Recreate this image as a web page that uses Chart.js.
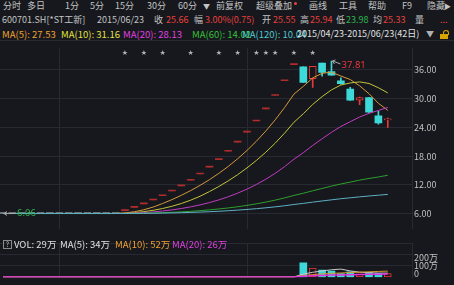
<!DOCTYPE html>
<html>
<head>
<meta charset="utf-8">
<script src="https://cdn.jsdelivr.net/npm/chart.js@4.4.1/dist/chart.umd.min.js"></script>
<style>
  body { margin:0; width:454px; height:285px; overflow:hidden; position:relative; background:#16181d;
         font-family:"Noto Sans CJK SC","Noto Sans",sans-serif; font-size:9px; color:#c4c4c4; }
  .t { position:absolute; white-space:nowrap; line-height:12px; }
  .r1 { top:0px; } .r2 { top:14px; } .r3 { top:28px; font-size:9.5px; } .rv { top:238px; font-size:9.5px; }
  .red { color:#e8403c; } .grn { color:#2db34e; }
  canvas { position:absolute; left:0; }
  #topline { position:absolute; left:0; top:40px; width:454px; height:1px; background:#272a31; }
</style>
</head>
<body>
<canvas id="priceChart" width="454" height="195" style="top:41px"></canvas>
<canvas id="volChart" width="454" height="49" style="top:236px"></canvas>
<div id="topline"></div>

<!-- toolbar -->
<span class="t r1" style="left:3px">分时</span>
<span class="t r1" style="left:27px">多日</span>
<span class="t r1" style="left:65px">1分</span>
<span class="t r1" style="left:90px">5分</span>
<span class="t r1" style="left:115px">15分</span>
<span class="t r1" style="left:147px">30分</span>
<span class="t r1" style="left:178px">60分</span>
<span class="t r1" style="left:203px;font-size:7px">▼</span>
<span class="t r1" style="left:216px">前复权</span>
<span class="t r1" style="left:256px">超级叠加</span>
<span style="position:absolute;left:294px;top:2px;width:3px;height:3px;border-radius:2px;background:#e8403c"></span>
<span class="t r1" style="left:309px">画线</span>
<span class="t r1" style="left:339px">工具</span>
<span class="t r1" style="left:368px">帮助</span>
<span class="t r1" style="left:402px">F9</span>
<span class="t r1" style="left:427px">隐藏</span>
<span class="t r1" style="left:444px;font-size:7px">▶</span>

<!-- quote row -->
<span class="t r2" style="left:2px">600701.SH[*ST工新]</span>
<span class="t r2" style="left:97px">2015/06/23</span>
<span class="t r2" style="left:154px">收</span>
<span class="t r2 red" style="left:166px">25.66</span>
<span class="t r2" style="left:194px">幅</span>
<span class="t r2 red" style="left:205px">3.00%(0.75)</span>
<span class="t r2" style="left:262px">开</span>
<span class="t r2 red" style="left:273px">25.55</span>
<span class="t r2" style="left:300px">高</span>
<span class="t r2 red" style="left:310px">25.94</span>
<span class="t r2" style="left:336px">低</span>
<span class="t r2 grn" style="left:346px">23.98</span>
<span class="t r2" style="left:373px">均</span>
<span class="t r2 red" style="left:383px">25.33</span>
<span class="t r2" style="left:415px">量</span>
<span class="t r2 red" style="left:440px">...</span>

<!-- MA row -->
<span class="t r3" style="left:2px;color:#f0a030">MA(5): 27.53</span>
<span class="t r3" style="left:61px;color:#e2e23a">MA(10): 31.16</span>
<span class="t r3" style="left:123px;color:#e040e0">MA(20): 28.13</span>
<span class="t r3" style="left:192px;color:#35c035">MA(60): 14.02</span>
<span class="t r3" style="left:242px;color:#50c8d0">MA(120): 10.04</span>
<span class="t r3" style="left:297px;color:#e0e0e0;font-size:9px">2015/04/23-2015/06/23(42日)</span>
<span class="t r3" style="left:426px;font-size:8px;color:#b0b0b0">▼</span>
<span style="position:absolute;left:443px;top:30px;width:4px;height:4px;border:1.5px solid #d9a400;border-bottom:none;border-radius:3px 3px 0 0"></span>
<span style="position:absolute;left:440px;top:34px;width:8px;height:5px;background:#d9a400"></span>

<!-- volume header -->
<span style="position:absolute;left:3px;top:240px;width:7px;height:7px;border:1px solid #8a8a8a;font-size:7px;line-height:7px;text-align:center;color:#c0c0c0">?</span>
<span class="t rv" style="left:14px;color:#e0e0e0">VOL: 29万</span>
<span class="t rv" style="left:60px;color:#e0e0e0">MA(5): 34万</span>
<span class="t rv" style="left:115px;color:#f0a030">MA(10): 52万</span>
<span class="t rv" style="left:172px;color:#e040e0">MA(20): 26万</span>

<script>
// 600701, 2015/04/23 - 2015/06/23, 42 trading days
const opens  = [6.06,6.06,6.06,6.06,6.06,6.06,6.06,6.06,6.06,6.06,6.06,6.06,6.06,
                6.67,7.33,8.07,8.87,9.76,10.74,11.81,12.99,14.29,15.72,17.29,19.02,20.92,23.01,25.32,27.85,30.63,33.70,37.06,
                36.60,34.10,37.35,35.60,33.70,31.96,29.65,30.20,26.40,25.55]
const highs  = [6.06,6.06,6.06,6.06,6.06,6.06,6.06,6.06,6.06,6.06,6.06,6.06,6.06,
                6.67,7.33,8.07,8.87,9.76,10.74,11.81,12.99,14.29,15.72,17.29,19.02,20.92,23.01,25.32,27.85,30.63,33.70,37.06,
                36.60,36.69,37.35,37.81,34.30,32.30,30.30,30.20,27.35,25.94]
const lows   = [6.06,6.06,6.06,6.06,6.06,6.06,6.06,6.06,6.06,6.06,6.06,6.06,6.06,
                6.67,7.33,8.07,8.87,9.76,10.74,11.81,12.99,14.29,15.72,17.29,19.02,20.92,23.01,25.32,27.85,30.63,33.70,37.06,
                33.35,32.30,34.65,34.85,33.00,29.60,28.70,27.10,24.65,23.98]
const closes = [6.06,6.06,6.06,6.06,6.06,6.06,6.06,6.06,6.06,6.06,6.06,6.06,6.06,
                6.67,7.33,8.07,8.87,9.76,10.74,11.81,12.99,14.29,15.72,17.29,19.02,20.92,23.01,25.32,27.85,30.63,33.70,37.06,
                33.35,36.69,35.40,34.85,33.10,29.65,30.20,27.15,24.91,25.66]

const ma5   = [6.06,6.06,6.06,6.06,6.06,6.06,6.06,6.06,6.06,6.06,6.06,6.06,6.06,
               6.18,6.44,6.84,7.40,8.14,8.95,9.85,10.83,11.92,13.11,14.42,15.86,17.45,19.19,21.11,23.22,25.55,28.10,30.91,
               32.52,34.29,35.24,35.47,34.68,33.94,32.64,30.99,29.00,27.53]
const ma10  = [6.06,6.06,6.06,6.06,6.06,6.06,6.06,6.06,6.06,6.06,6.06,6.06,6.06,
               6.12,6.25,6.45,6.73,7.10,7.57,8.14,8.84,9.66,10.63,11.69,12.86,14.14,15.56,17.11,18.82,20.70,22.78,25.05,
               26.82,28.76,30.39,31.79,32.80,33.23,33.46,33.12,32.24,31.16]
const ma20  = [6.06,6.06,6.06,6.06,6.06,6.06,6.06,6.06,6.06,6.06,6.06,6.06,6.06,
               6.09,6.15,6.25,6.40,6.58,6.81,7.10,7.45,7.86,8.34,8.90,9.55,10.30,11.14,12.11,13.20,14.42,15.81,17.36,
               18.72,20.22,21.62,22.96,24.18,25.17,26.14,26.91,27.51,28.13]
const ma60  = [6.06,6.06,6.06,6.06,6.06,6.06,6.06,6.06,6.06,6.06,6.06,6.06,6.06,
               6.07,6.09,6.12,6.17,6.23,6.31,6.41,6.52,6.66,6.82,7.01,7.22,7.47,7.75,8.08,8.44,8.85,9.31,9.83,
               10.28,10.79,11.28,11.76,12.21,12.60,13.01,13.36,13.67,14.02]
const ma120 = [6.06,6.06,6.06,6.06,6.06,6.06,6.06,6.06,6.06,6.06,6.06,6.06,6.06,
               6.07,6.08,6.09,6.12,6.15,6.19,6.23,6.29,6.36,6.44,6.53,6.64,6.77,6.91,7.07,7.25,7.45,7.68,7.94,
               8.17,8.43,8.67,8.91,9.14,9.33,9.53,9.71,9.87,10.04]

// volume in 万
const volumes = [0,0,0,0,0,0,0,0,0,0,0,0,0,
                 0.3,0.3,0.3,0.3,0.3,0.3,0.3,0.3,0.3,0.3,0.3,0.3,0.3,0.3,0.3,0.3,0.3,0.3,0.3,
                 126,80,62,52,30,45,25,38,33,29]
const volMa5  = [0,0,0,0,0,0,0,0,0,0,0,0,0,
                 0.06,0.12,0.18,0.24,0.3,0.3,0.3,0.3,0.3,0.3,0.3,0.3,0.3,0.3,0.3,0.3,0.3,0.3,0.3,
                 25.4,41.4,53.7,64.1,70.0,53.8,42.8,38.0,34.2,34.0]
const volMa10 = [0,0,0,0,0,0,0,0,0,0,0,0,0,
                 0.03,0.06,0.09,0.12,0.15,0.18,0.21,0.24,0.27,0.3,0.3,0.3,0.3,0.3,0.3,0.3,0.3,0.3,0.3,
                 12.9,20.8,27.0,32.2,35.2,39.6,42.1,45.9,49.1,52.0]
const volMa20 = [0,0,0,0,0,0,0,0,0,0,0,0,0,
                 0.02,0.03,0.05,0.06,0.08,0.09,0.11,0.12,0.14,0.15,0.17,0.18,0.2,0.21,0.23,0.24,0.26,0.27,0.29,
                 6.6,10.6,13.7,16.2,17.7,20.0,21.2,23.1,24.7,26.1]

const starDays = [13,15,17,20,23,25,27,28,29,31,33]   // info markers
const monthStarts = [6, 26]                           // 05/04, 06/01
const priceTicks = [6,12,18,24,30,36]
const volGridTicks = [100,200,300]
const volLabelTicks = [0,100,200]

const BG = '#16181d', GRID = '#272a31', RED = '#e8383a', LIMIT = '#b02c2c', CYAN = '#3dd9d9', GRAY = '#8c9196'

Chart.defaults.font.family = '"Noto Sans CJK SC", "Noto Sans", sans-serif'
Chart.defaults.font.size = 9
Chart.defaults.color = '#c0c0c0'

// candle type: up / down / limit (one-price up) / flat
const kind = closes.map(function (c, i) {
    if (c > opens[i]) return 'up'
    if (c < opens[i]) return 'down'
    const prev = i > 0 ? closes[i - 1] : c
    if (c > prev) return 'limit'
    if (c < prev) return 'down'
    return 'flat'
})
const fillOf = { up: BG, down: CYAN, limit: LIMIT, flat: GRAY }
const lineOf = { up: RED, down: CYAN, limit: LIMIT, flat: GRAY }

function xScale() {
    return {
        type: 'linear', min: -0.32, max: 43.58, offset: false,
        afterBuildTicks: function (s) { s.ticks = monthStarts.map(v => ({ value: v })) },
        ticks: { display: false },
        grid: { color: GRID, drawTicks: false, offset: false },
        border: { display: false },
        afterFit: function (s) { s.height = 0 }
    }
}

const marks = {
    id: 'marks',
    afterDatasetsDraw(chart) {
        const { ctx, chartArea } = chart
        const x = chart.scales.x, y = chart.scales.y
        ctx.save()
        ctx.fillStyle = '#b4b4b4'
        ctx.font = '7px "DejaVu Sans"'
        ctx.textAlign = 'center'
        ctx.textBaseline = 'middle'
        starDays.forEach(d => ctx.fillText('★', x.getPixelForValue(d), chartArea.top + 5))

        // highest
        const hi = Math.max(...highs), hiIdx = highs.indexOf(hi)
        let px = x.getPixelForValue(hiIdx), py = y.getPixelForValue(hi)
        ctx.strokeStyle = '#a8a8a8'
        ctx.lineWidth = 1
        ctx.beginPath()
        ctx.moveTo(px + 1, py); ctx.lineTo(px + 9, py + 3)
        ctx.moveTo(px + 1, py); ctx.lineTo(px + 4, py - 1)
        ctx.moveTo(px + 1, py); ctx.lineTo(px + 3, py + 3)
        ctx.stroke()
        ctx.textAlign = 'left'
        ctx.font = '9.5px "Noto Sans"'
        ctx.fillStyle = RED
        ctx.fillText(hi.toFixed(2), px + 10, py + 4)

        // lowest
        const lo = Math.min(...lows), loIdx = lows.indexOf(lo)
        px = x.getPixelForValue(loIdx); py = y.getPixelForValue(lo)
        ctx.beginPath()
        ctx.moveTo(px + 1, py); ctx.lineTo(px + 12, py)
        ctx.moveTo(px + 1, py); ctx.lineTo(px + 4, py - 2)
        ctx.moveTo(px + 1, py); ctx.lineTo(px + 4, py + 2)
        ctx.stroke()
        ctx.fillStyle = '#2db34e'
        ctx.fillText(lo.toFixed(2), px + 14, py)
        ctx.restore()
    }
}

function maLine(values, color, order) {
    return {
        type: 'line', data: values.map((v, i) => ({ x: i, y: v })),
        borderColor: color, borderWidth: 1, pointRadius: 0, tension: 0, order: order
    }
}

new Chart(document.getElementById('priceChart'), {
    data: {
        datasets: [
            {//wicks
                type: 'bar', grouped: false, order: 8,
                data: lows.map((l, i) => ({ x: i, y: [l, highs[i]] })),
                backgroundColor: kind.map(k => lineOf[k]), barThickness: 1
            },
            {//bodies
                type: 'bar', grouped: false, order: 7,
                data: opens.map((o, i) => ({ x: i, y: [o, closes[i]] })),
                backgroundColor: kind.map(k => fillOf[k]),
                borderColor: kind.map(k => lineOf[k]),
                borderWidth: kind.map(k => k === 'up' ? 1 : 0),
                borderSkipped: false, barThickness: 7, minBarLength: 1
            },
            maLine(ma5, '#d49a3a', 5),
            maLine(ma10, '#c4c43a', 4),
            maLine(ma20, '#c23cc2', 3),
            maLine(ma60, '#2f9e2f', 2),
            maLine(ma120, '#5fb0c4', 1)
        ]
    },
    options: {
        responsive: false, animation: false, events: [],
        layout: { padding: 0 },
        plugins: { legend: { display: false }, tooltip: { enabled: false } },
        scales: {
            x: xScale(),
            y: {
                position: 'right', min: 2.923, max: 40.423,
                afterBuildTicks: function (s) { s.ticks = priceTicks.map(v => ({ value: v })) },
                ticks: { padding: 2, autoSkip: false, callback: v => v.toFixed(2) },
                grid: { color: GRID, drawTicks: false },
                border: { display: true, color: GRID },
                afterFit: function (s) { s.width = 42 }
            }
        }
    },
    plugins: [marks]
})

new Chart(document.getElementById('volChart'), {
    data: {
        datasets: [
            {
                type: 'bar', grouped: false, order: 5, yAxisID: 'yv',
                data: volumes.map((v, i) => ({ x: i, y: v })),
                backgroundColor: kind.map(k => k === 'down' ? CYAN : (k === 'flat' ? GRAY : BG)),
                borderColor: kind.map(k => k === 'down' ? CYAN : (k === 'flat' ? GRAY : RED)),
                borderWidth: kind.map(k => k === 'down' ? 0 : 1),
                borderSkipped: false, barThickness: 7
            },
            Object.assign(maLine(volMa5, '#c8c8c8', 3), { yAxisID: 'yv' }),
            Object.assign(maLine(volMa10, '#d4962e', 2), { yAxisID: 'yv' }),
            Object.assign(maLine(volMa20, '#e030e0', 1), { yAxisID: 'yv', borderWidth: 1.5 })
        ]
    },
    options: {
        responsive: false, animation: false, events: [],
        layout: { padding: 0 },
        plugins: { legend: { display: false }, tooltip: { enabled: false } },
        scales: {
            x: xScale(),
            yv: {
                position: 'right', weight: 0, min: -6, max: 300,
                afterBuildTicks: function (s) { s.ticks = volGridTicks.map(v => ({ value: v })) },
                ticks: { display: false },
                grid: { color: GRID, drawTicks: false },
                border: { display: false },
                afterFit: function (s) { s.width = 0 }
            },
            yl: {
                position: 'right', weight: 1, min: -54.5, max: 390.9,
                afterBuildTicks: function (s) { s.ticks = volLabelTicks.map(v => ({ value: v })) },
                ticks: { padding: 2, autoSkip: false, callback: v => v === 0 ? '0' : v + '万' },
                grid: { display: false, drawTicks: false },
                border: { display: true, color: GRID },
                afterFit: function (s) { s.width = 42 }
            }
        }
    }
})
</script>
</body>
</html>
